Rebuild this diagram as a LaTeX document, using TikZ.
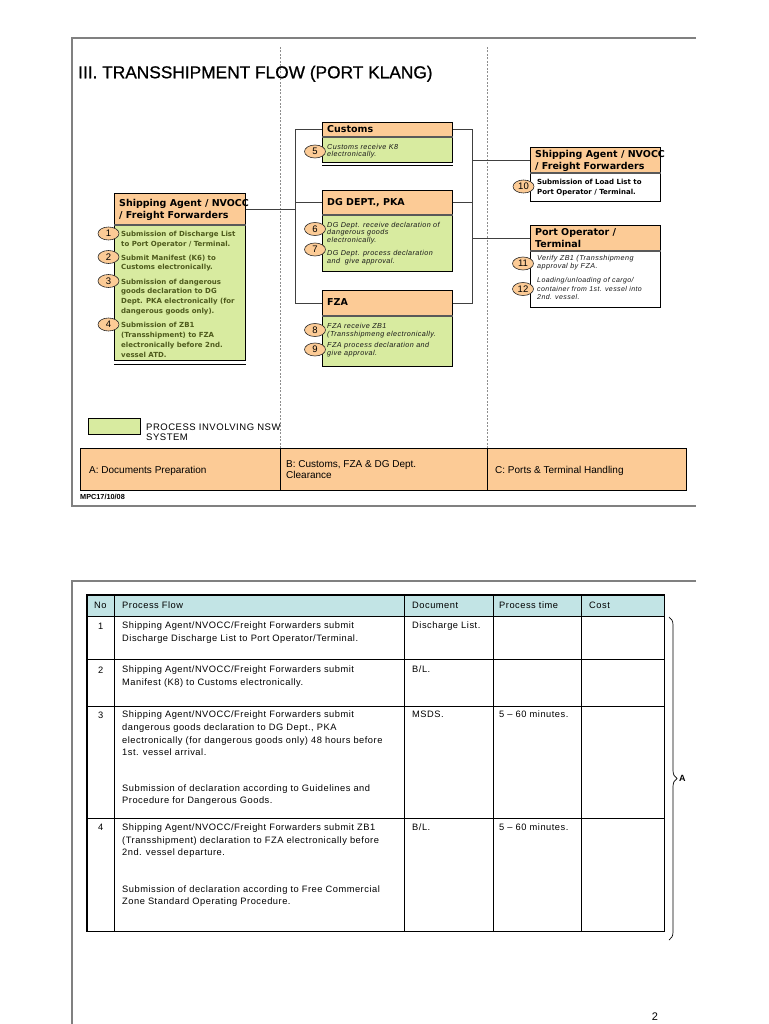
\documentclass[tikz,border=0pt]{standalone}
\usepackage{fontspec}
\setmainfont{Liberation Sans}
\newfontfamily\verd{DejaVu Sans}
\newfontfamily\tabf[LetterSpace=5.5]{Liberation Sans}
\newfontfamily\midf[LetterSpace=6]{Liberation Sans}
\newfontfamily\titlef[FakeBold=0.8]{Liberation Sans}
\usetikzlibrary{shapes.geometric,decorations.pathreplacing}
\definecolor{peach}{HTML}{FCCB96}
\definecolor{lgreen}{HTML}{D8EBA0}
\definecolor{cyanh}{HTML}{C2E4E5}
\definecolor{olive}{HTML}{4E5A1C}
\definecolor{framegray}{HTML}{808080}
\begin{document}
\begin{tikzpicture}[x=1pt,y=-1pt,
  frame/.style={draw=framegray, line width=1.2pt},
  sepline/.style={draw=framegray!90, dash pattern=on 2pt off 1.5pt, line width=0.9pt},
  hdr/.style={draw=black, fill=peach, line width=0.7pt, anchor=north west, inner sep=0pt},
  grnb/.style={draw=black, fill=lgreen, line width=0.7pt, anchor=north west, inner sep=0pt},
  whtb/.style={draw=black, fill=white, line width=0.7pt, anchor=north west, inner sep=0pt},
  split/.style={draw=black!65, line width=1.4pt},
  num/.style={ellipse, draw=black!85, fill=peach, line width=0.6pt, minimum width=21pt, minimum height=13pt, inner sep=0pt, font=\fontsize{9.5}{9.5}\selectfont},
  htxt/.style={anchor=north west, inner sep=0pt, align=left, font=\verd\bfseries\fontsize{9.5}{12}\selectfont},
  ltxt/.style={anchor=north west, inner sep=0pt, align=left, text=olive, font=\verd\bfseries\fontsize{7}{9.9}\selectfont},
  rtxt/.style={anchor=north west, inner sep=0pt, align=left, font=\verd\bfseries\fontsize{7}{10}\selectfont},
  mtxt/.style={anchor=north west, inner sep=0pt, align=left, text=black!90, font=\midf\itshape\fontsize{7.2}{7.6}\selectfont},
  conn/.style={draw=black!75, line width=0.9pt},
  ttxt/.style={anchor=north west, inner sep=0pt, align=left, font=\tabf\fontsize{9.3}{12.6}\selectfont},
  tnum/.style={anchor=north, inner sep=0pt, font=\tabf\fontsize{9.3}{12.6}\selectfont},
  bandbox/.style={draw=black, fill=peach, line width=0.8pt, anchor=north west, inner sep=0pt, minimum height=42pt},
  bandtxt/.style={anchor=north west, inner sep=0pt, align=left, font=\fontsize{10}{11.5}\selectfont},
  thin/.style={line width=0.8pt},
  thick/.style={line width=1.6pt}
]
\useasboundingbox (0,0) rectangle (768,1024);

% frames
\draw[frame] (696,38) -- (72,38) -- (72,506) -- (696,506);
\draw[frame] (696,581) -- (72,581) -- (72,1024);

% title
\node[anchor=base west, inner sep=0pt, font=\titlef\fontsize{17.3}{20}\selectfont] (title) at (78,78.3) {III. TRANSSHIPMENT FLOW (PORT KLANG)};

% band
\node[bandbox, minimum width=200pt] (bandA) at (80,448) {};
\node[bandbox, minimum width=207pt] (bandB) at (280,448) {};
\node[bandbox, minimum width=199pt] (bandC) at (487,448) {};
\node[bandtxt] (bA) at (89,465.7) {A: Documents Preparation};
\node[bandtxt] (bB) at (286,460.2) {B: Customs, FZA \& DG Dept.\\Clearance};
\node[bandtxt] (bC) at (495,465.7) {C: Ports \& Terminal Handling};

% dashed separators
\draw[sepline] (bandA.north east) -- ++(0,-402);
\draw[sepline] (bandB.north east) -- ++(0,-402);

% legend
\node[grnb, minimum width=52pt, minimum height=16pt] (leg) at (88,418) {};
\node[anchor=north west, inner sep=0pt, align=left, font=\tabf\fontsize{9.5}{10.5}\selectfont] (legt) at (146,423.5) {PROCESS INVOLVING NSW\\SYSTEM};
\node[anchor=north west, inner sep=0pt, font=\bfseries\fontsize{7.3}{8}\selectfont] (mpc) at (80,493.9) {MPC17/10/08};

% ---------- left box: Shipping Agent ----------
\node[hdr, minimum width=131pt, minimum height=32pt] (sa1h) at (114,193) {};
\node[grnb, minimum width=131pt, minimum height=135pt] (sa1b) at (114,225) {};
\draw[split] (sa1b.north west) -- (sa1b.north east);
\draw[line width=0.8pt] ([yshift=-3.3pt]sa1b.south west) -- ([yshift=-3.3pt]sa1b.south east);
\node[htxt] (sa1t) at (119,198.9) {Shipping Agent / NVOCC\\/ Freight Forwarders};
\node[ltxt] (i1) at (121,230.8) {Submission of Discharge List\\to Port Operator / Terminal.};
\node[ltxt] (i2) at (121,254.5) {Submit Manifest (K6) to\\Customs electronically.};
\node[ltxt] (i3) at (121,278.5) {Submission of dangerous\\goods declaration to DG\\Dept. PKA electronically (for\\dangerous goods only).};
\node[ltxt] (i4) at (121,321.8) {Submission of ZB1\\(Transshipment) to FZA\\electronically before 2nd.\\vessel ATD.};
\node[num] (n1) at (108.5,233.5) {1};
\node[num] (n2) at (108.5,257) {2};
\node[num] (n3) at (108.5,281) {3};
\node[num] (n4) at (108.5,324.5) {4};

% ---------- Customs ----------
\node[hdr, minimum width=130pt, minimum height=15pt] (cush) at (322,122) {};
\node[grnb, minimum width=130pt, minimum height=25pt] (cusb) at (322,137) {};
\draw[split] (cusb.north west) -- (cusb.north east);
\draw[line width=0.8pt] ([yshift=-3pt]cusb.south west) -- ([yshift=-3pt]cusb.south east);
\node[htxt] (cust) at (327,125.6) {Customs};
\node[mtxt] (i5) at (327,143.8) {Customs receive K8\\electronically.};
\node[num] (n5) at (315,151.5) {5};

% ---------- DG Dept ----------
\node[hdr, minimum width=130pt, minimum height=25pt] (dgh) at (322,190) {};
\node[grnb, minimum width=130pt, minimum height=56pt] (dgb) at (322,215) {};
\draw[split] (dgb.north west) -- (dgb.north east);
\node[htxt] (dgt) at (327,198.1) {DG DEPT., PKA};
\node[mtxt] (i6) at (327,221.8) {DG Dept. receive declaration of\\dangerous goods\\electronically.};
\node[mtxt] (i7) at (327,250.3) {DG Dept. process declaration\\and\ \ give approval.};
\node[num] (n6) at (315,229) {6};
\node[num] (n7) at (315,249.5) {7};

% ---------- FZA ----------
\node[hdr, minimum width=130pt, minimum height=26pt] (fzah) at (322,290) {};
\node[grnb, minimum width=130pt, minimum height=50pt] (fzab) at (322,316) {};
\draw[split] (fzab.north west) -- (fzab.north east);
\node[htxt] (fzat) at (327,298.6) {FZA};
\node[mtxt] (i8) at (327,323.3) {FZA receive ZB1\\(Transshipmeng electronically.};
\node[mtxt] (i9) at (327,342.3) {FZA process declaration and\\give approval.};
\node[num] (n8) at (315,330) {8};
\node[num] (n9) at (315,349.5) {9};

% ---------- right: Shipping Agent ----------
\node[hdr, minimum width=130pt, minimum height=26pt] (sa2h) at (530,147) {};
\node[whtb, minimum width=130pt, minimum height=28pt] (sa2b) at (530,173) {};
\draw[split] (sa2b.north west) -- (sa2b.north east);
\node[htxt] (sa2t) at (535,149.9) {Shipping Agent / NVOCC\\/ Freight Forwarders};
\node[rtxt] (i10) at (537,179.1) {Submission of Load List to\\Port Operator / Terminal.};
\node[num] (n10) at (523.5,186.5) {10};

% ---------- right: Port Operator ----------
\node[hdr, minimum width=130pt, minimum height=26pt] (poh) at (530,225) {};
\node[whtb, minimum width=130pt, minimum height=56pt] (pob) at (530,251) {};
\draw[split] (pob.north west) -- (pob.north east);
\node[htxt] (pot) at (535,228.3) {Port Operator /\\Terminal};
\node[mtxt] (i11) at (537,255.3) {Verify ZB1 (Transshipmeng\\approval by FZA.};
\node[mtxt, font=\midf\itshape\fontsize{7}{8.4}\selectfont] (i12) at (537,277.4) {Loading/unloading of cargo/\\container from 1st. vessel into\\2nd. vessel.};
\node[num] (n11) at (523,263.5) {11};
\node[num] (n12) at (523,289) {12};

% ---------- connectors ----------
\coordinate (tl) at (295,0);
\coordinate (tr) at (472,0);
\draw[conn] (sa1h.east) -- (sa1h.east -| tl);
\draw[conn] (cush.west) -| (fzah.west -| tl) -- (fzah.west);
\draw[conn] (dgh.west) -- (dgh.west -| tl);
\draw[conn] (cush.east) -| (fzah.east -| tr) -- (fzah.east);
\draw[conn] (dgh.east) -- (dgh.east -| tr);
\draw[conn] (sa2h.west) -- (sa2h.west -| tr);
\draw[conn] (poh.west) -- (poh.west -| tr);

% ---------- table ----------
\fill[cyanh] (87,595) rectangle (664.5,616);
\draw[thin] (87,616) -- (664.5,616);
\draw[thin] (87,659) -- (664.5,659);
\draw[thin] (87,706) -- (664.5,706);
\draw[thin] (87,818) -- (664.5,818);
\foreach \cx in {114.4,404.5,493.3,581.3} {\draw[thin] (\cx,595) -- (\cx,931.5);}
\draw[thick] (87,595) rectangle (664.5,931.5);

\node[ttxt] (hno) at (94,602) {No};
\node[ttxt] (hpf) at (122,602) {Process Flow};
\node[ttxt] (hdoc) at (412,602) {Document};
\node[ttxt] (hpt) at (499,602) {Process time};
\node[ttxt] (hcost) at (589,602) {Cost};

\node[tnum] (r1n) at (100.7,622.6) {1};
\node[ttxt] (r1p) at (122,622) {Shipping Agent/NVOCC/Freight Forwarders submit\\Discharge Discharge List to Port Operator/Terminal.};
\node[ttxt] (r1d) at (412,622) {Discharge List.};

\node[tnum] (r2n) at (100.7,666.6) {2};
\node[ttxt] (r2p) at (122,666) {Shipping Agent/NVOCC/Freight Forwarders submit\\Manifest (K8) to Customs electronically.};
\node[ttxt] (r2d) at (412,666) {B/L.};

\node[tnum] (r3n) at (100.7,711.6) {3};
\node[ttxt] (r3p) at (122,711) {Shipping Agent/NVOCC/Freight Forwarders submit\\dangerous goods declaration to DG Dept., PKA\\electronically (for dangerous goods only) 48 hours before\\1st. vessel arrival.};
\node[ttxt] (r3q) at (122,784.3) {Submission of declaration according to Guidelines and\\Procedure for Dangerous Goods.};
\node[ttxt] (r3d) at (412,711) {MSDS.};
\node[ttxt] (r3t) at (499,711) {5 – 60 minutes.};

\node[tnum] (r4n) at (100.7,824.3) {4};
\node[ttxt] (r4p) at (122,823.7) {Shipping Agent/NVOCC/Freight Forwarders submit ZB1\\(Transshipment) declaration to FZA electronically before\\2nd. vessel departure.};
\node[ttxt] (r4q) at (122,885.3) {Submission of declaration according to Free Commercial\\Zone Standard Operating Procedure.};
\node[ttxt] (r4d) at (412,823.7) {B/L.};
\node[ttxt] (r4t) at (499,823.7) {5 – 60 minutes.};

% brace
\draw[line width=0.7pt, decorate, decoration={brace, amplitude=8pt}] (669,617) -- (669,940);
\node[anchor=west, inner sep=0pt, font=\bfseries\fontsize{9}{9}\selectfont] (bA2) at (679,778.5) {A};

% page number
\node[inner sep=0pt, font=\fontsize{11}{11}\selectfont] (pg) at (655,1017) {2};
\end{tikzpicture}
\end{document}
